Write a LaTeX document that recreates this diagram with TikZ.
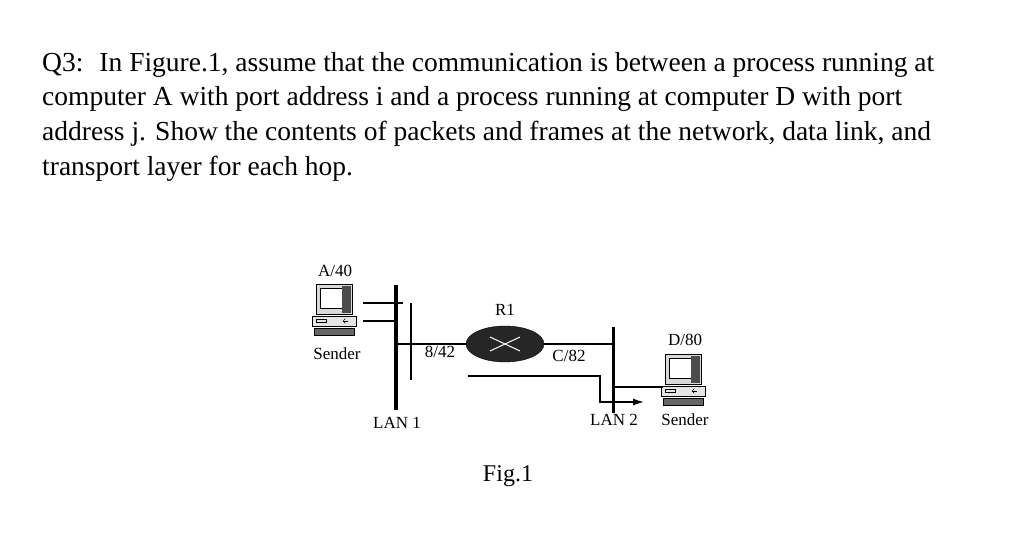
\documentclass[tikz,border=0pt]{standalone}
\usepackage{fontspec}
\setmainfont{Liberation Serif}
\newfontfamily\tms{Liberation Serif}
\usetikzlibrary{shapes.geometric,arrows.meta}
\begin{document}
\begin{tikzpicture}[x=1pt,y=-1pt,
  lbl/.style={font=\tms\fontsize{17}{19}\selectfont, inner sep=0pt},
  bar/.style={line width=4pt},
  wire/.style={line width=1.4pt}]
\useasboundingbox (0,0) rectangle (1015,553);
\node[anchor=north west, align=left, inner sep=0pt, font=\tms\fontsize{27.5}{34.7}\selectfont] (q) at (42,52)
{Q3: \ In Figure.1, assume that the communication is between a process running at\\
computer A with port address i and a process running at computer D with port\\
address j. Show the contents of packets and frames at the network, data link, and\\
transport layer for each hop.};
% computer icons
\newcommand{\pcicon}[1]{%
 \begin{scope}[shift={#1}]
  \draw[fill=gray!30, line width=0.8pt] (4,0) rectangle (40,30);
  \draw[fill=white] (8,4) rectangle (30,24);
  \fill[black!70] (30,2) rectangle (39,29);
  \draw[fill=gray!20] (0,32) rectangle (44,42);
  \draw (4,35) rectangle (14,38); \draw[->] (36,37) -- (31,37);
  \draw[fill=black!60] (2,44) rectangle (42,51);
 \end{scope}}
\pcicon{(312,284)}
\pcicon{(661,354)}
\coordinate (a1) at (363,303); \coordinate (a2) at (363,321);
\coordinate (d1) at (663,387);
% LANs
\coordinate (l1t) at (396,285); \coordinate (l1b) at (396,410);
\draw[bar] (l1t) -- (l1b);
\coordinate (t1t) at (411,303); \coordinate (t1b) at (411,380);
\draw[line width=1.8pt] (t1t) -- (t1b);
\coordinate (l2t) at (613,327); \coordinate (l2b) at (613,413);
\draw[line width=3pt] (l2t) -- (l2b);
\draw[wire] (a1) -- (403,303);
\draw[wire] (a2) -- (396,321);
% router
\node[ellipse, draw, fill=black!85, minimum width=78pt, minimum height=36pt, inner sep=0pt] (r) at (505,344) {};
\draw[white, line width=1pt] (490,337) -- (520,351) (490,351) -- (520,337);
\draw[line width=2.5pt] (396,344) -- (r.west);
\draw[wire] (r.east) -- (613,344);
\draw[wire] (613,387) -- (d1);
% flow arrow
\coordinate (f0) at (468,376);
\coordinate (f1) at (644,402);
\draw[wire, -{Latex[length=11pt,width=7pt]}] (f0) -- (600,376) -- (600,402) -- (f1);
% labels
\node[lbl] (ta) at (335,271) {A/40};
\node[lbl] (ts) at (337,354) {Sender};
\node[lbl] (tp) at (440,352) {8/42};
\node[lbl] (tr) at (505,310) {R1};
\node[lbl] (tc) at (569,356) {C/82};
\node[lbl] (td) at (685,340) {D/80};
\node[lbl] (tl1) at (397,423) {LAN 1};
\node[lbl] (tl2) at (614,420) {LAN 2};
\node[lbl] (ts2) at (685,420) {Sender};
\node[font=\tms\fontsize{24}{26}\selectfont, inner sep=0pt] (fig) at (508,476) {Fig.1};
\end{tikzpicture}
\end{document}
